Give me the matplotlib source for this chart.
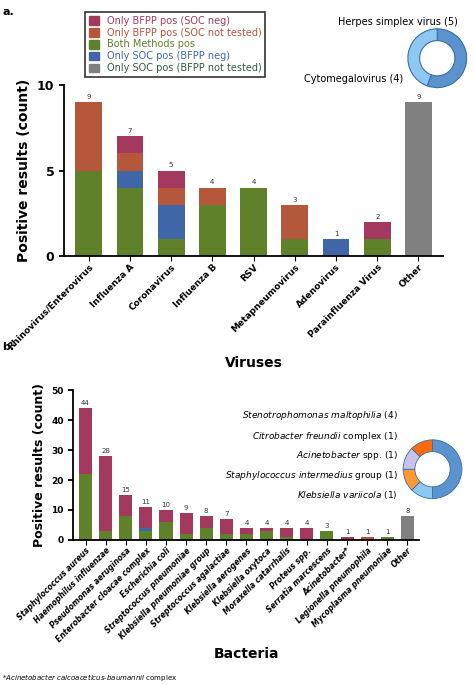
import numpy as np
import matplotlib.pyplot as plt

# viruses
vir_names = ["Rhinovirus/Enterovirus", "Influenza A", "Coronavirus", "Influenza B", "RSV",
             "Metapneumovirus", "Adenovirus", "Parainfluenza Virus", "Other"]
vir_both = [5, 4, 1, 3, 4, 1, 0, 1, 0]
vir_soc = [0, 1, 2, 0, 0, 0, 1, 0, 0]
vir_nt = [4, 1, 1, 1, 0, 2, 0, 0, 0]
vir_neg = [0, 1, 1, 0, 0, 0, 0, 1, 0]
vir_other = [0, 0, 0, 0, 0, 0, 0, 0, 9]
vir_pie_labels = ["Herpes simplex virus (5)", "Cytomegalovirus (4)"]
vir_pie = [5, 4]

# bacteria
bac_names = ["Staphylococcus aureus", "Haemophilus influenzae", "Pseudomonas aeruginosa",
             "Enterobacter cloacae complex", "Escherichia coli", "Streptococcus pneumoniae",
             "Klebsiella pneumoniae group", "Streptococcus agalactiae", "Klebsiella aerogenes",
             "Klebsiella oxytoca", "Moraxella catarrhalis", "Proteus spp.", "Serratia marcescens",
             "Acinetobacter*", "Legionella pneumophila", "Mycoplasma pneumoniae", "Other"]
bac_both = [22, 3, 8, 3, 6, 2, 4, 2, 2, 3, 1, 0, 3, 0, 0, 1, 0]
bac_soc = [0, 0, 0, 1, 0, 0, 0, 0, 0, 0, 0, 0, 0, 0, 0, 0, 0]
bac_nt = [0, 0, 0, 0, 0, 0, 0, 0, 0, 0, 0, 0, 0, 0, 1, 0, 0]
bac_neg = [22, 25, 7, 7, 4, 7, 4, 5, 2, 1, 3, 4, 0, 1, 0, 0, 0]
bac_other = [0] * 16 + [8]
# clockwise from top: Stenotrophomonas, Klebsiella variicola, Staph. intermedius, Acinetobacter, Citrobacter
bac_pie = [4, 1, 1, 1, 1]

C_NEG, C_NT, C_BOTH, C_SOC, C_GREY = "#A3395F", "#B5573A", "#5E8129", "#3F67A8", "#808080"


def stacked(ax, names, both, soc, nt, neg, other):
    x = np.arange(len(names))
    bottom = np.zeros(len(names))
    for vals, c in [(both, C_BOTH), (soc, C_SOC), (nt, C_NT), (neg, C_NEG), (other, C_GREY)]:
        ax.bar(x, vals, 0.65, bottom=bottom, color=c)
        bottom += np.array(vals)
    mx = bottom.max()
    for xi, t in zip(x, bottom):
        ax.text(xi, t + mx * 0.015, str(int(t)), ha="center", va="bottom", fontsize=5, color="#333")
    ax.set_xticks(x)
    ax.set_xlim(-0.6, len(names) - 0.4)
    for s in ["top", "right"]:
        ax.spines[s].set_visible(False)
    ax.spines["left"].set_linewidth(1.3)
    ax.spines["bottom"].set_linewidth(1.3)
    return x


fig = plt.figure(figsize=(4.74, 6.85), dpi=100)

# panel a
ax1 = fig.add_axes([0.135, 0.626, 0.8, 0.25])
stacked(ax1, vir_names, vir_both, vir_soc, vir_nt, vir_neg, vir_other)
ax1.set_ylim(0, 10)
ax1.set_yticks([0, 5, 10])
ax1.tick_params(axis="y", labelsize=9, width=1.3)
ax1.tick_params(axis="x", pad=1)
for lab in ax1.get_yticklabels():
    lab.set_fontweight("bold")
ax1.set_xticklabels(vir_names, rotation=45, ha="right", rotation_mode="anchor", fontsize=6.5, fontweight="bold")
ax1.set_ylabel("Positive results (count)", fontsize=10, fontweight="bold")
ax1.set_xlabel("Viruses", fontsize=10, fontweight="bold")
ax1.xaxis.set_label_coords(0.5, -0.58)
fig.text(0.005, 0.99, "a.", fontsize=8, fontweight="bold", va="top")

handles = [plt.Rectangle((0, 0), 1, 1, color=c) for c in [C_NEG, C_NT, C_BOTH, C_SOC, C_GREY]]
labels = ["Only BFPP pos (SOC neg)", "Only BFPP pos (SOC not tested)", "Both Methods pos",
          "Only SOC pos (BFPP neg)", "Only SOC pos (BFPP not tested)"]
leg = fig.legend(handles, labels, loc="upper left", bbox_to_anchor=(0.17, 0.99), fontsize=7,
                 frameon=True, fancybox=False, edgecolor="black", handlelength=1, handleheight=1,
                 labelspacing=0.2, borderpad=0.4)
leg.get_frame().set_linewidth(1.2)
for t, c in zip(leg.get_texts(), [C_NEG, C_NT, C_BOTH, C_SOC, "#2e5c3a"]):
    t.set_color(c)

pa = fig.add_axes([0.845, 0.855, 0.155, 0.12])
pa.pie(vir_pie, colors=["#5B93CF", "#8CC8F2"], startangle=90, counterclock=False,
       wedgeprops=dict(width=0.4, edgecolor="#3a6ea5", linewidth=0.8))
fig.text(0.965, 0.975, vir_pie_labels[0], ha="right", va="top", fontsize=7)
fig.text(0.85, 0.885, vir_pie_labels[1], ha="right", va="center", fontsize=7)

# panel b
ax2 = fig.add_axes([0.155, 0.212, 0.73, 0.218])
stacked(ax2, bac_names, bac_both, bac_soc, bac_nt, bac_neg, bac_other)
ax2.set_ylim(0, 50)
ax2.set_yticks([0, 10, 20, 30, 40, 50])
ax2.tick_params(axis="y", labelsize=6.5, width=1.3)
ax2.tick_params(axis="x", pad=1)
for lab in ax2.get_yticklabels():
    lab.set_fontweight("bold")
ax2.set_xticklabels(bac_names, rotation=45, ha="right", rotation_mode="anchor", fontsize=5.5,
                    fontweight="bold", fontstyle="italic")
ax2.set_ylabel("Positive results (count)", fontsize=9, fontweight="bold")
ax2.set_xlabel("Bacteria", fontsize=10, fontweight="bold")
ax2.xaxis.set_label_coords(0.5, -0.72)
fig.text(0.005, 0.5, "b.", fontsize=8, fontweight="bold", va="top")

pb = fig.add_axes([0.835, 0.25, 0.155, 0.13])
pb.pie(bac_pie, colors=["#5B93CF", "#8CC8F2", "#FF9A33", "#C9C3EC", "#FF6A0D"], startangle=90,
       counterclock=False, wedgeprops=dict(width=0.4, edgecolor="#3a6ea5", linewidth=0.6))
ys = [0.393, 0.363, 0.335, 0.306, 0.277]
bac_pie_texts = [r"$\it{Stenotrophomonas\ maltophilia}$ (4)", r"$\it{Citrobacter\ freundii}$ complex (1)",
                 r"$\it{Acinetobacter}$ spp. (1)", r"$\it{Staphylococcus\ intermedius}$ group (1)",
                 r"$\it{Klebsiella\ variicola\ (1)}$"]
for y, t in zip(ys, bac_pie_texts):
    fig.text(0.84, y, t, ha="right", va="center", fontsize=6.5)

fig.text(0.005, 0.008, r"*$\it{Acinetobacter\ calcoaceticus}$-$\it{baumannii}$ complex", fontsize=5)

fig.savefig("out.png", dpi=100)
